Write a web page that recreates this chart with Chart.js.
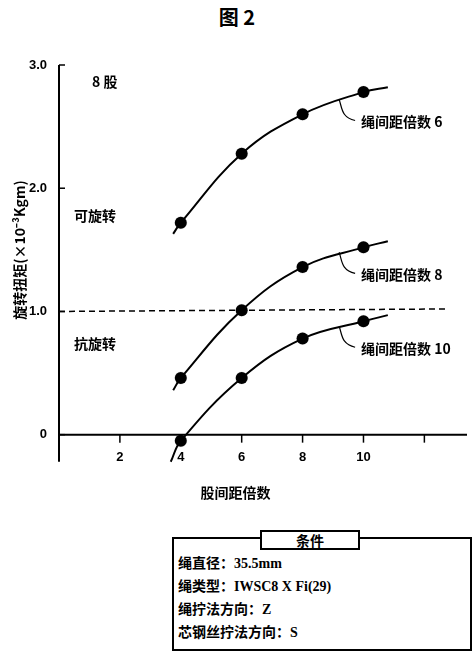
<!DOCTYPE html>
<html><head><meta charset="utf-8">
<script src="https://cdn.jsdelivr.net/npm/chart.js@4"></script>
<style>
body{margin:0;background:#fff;width:474px;height:652px;position:relative;font-family:"Noto Sans CJK SC",sans-serif;overflow:hidden}
#t{position:absolute;left:0;width:474px;top:2px;text-align:center;font-size:20px;font-weight:bold}
#w{position:absolute;left:0;top:0;width:474px;height:500px}
#box{position:absolute;left:172px;top:537px;width:296px;height:110px;border:2px solid #000;font-size:14px;font-weight:bold;font-family:"Liberation Serif","Noto Sans CJK SC",serif}
#hd{position:absolute;left:86px;top:-9px;width:96px;height:16px;border:2px solid #000;background:#fff;text-align:center;line-height:16px;font-family:"Noto Sans CJK SC"}
.r{position:absolute;left:4px}
</style></head><body>
<div id="t">图 2</div>
<div id="w"><canvas id="c"></canvas></div>
<div id="box"><div id="hd">条件</div>
<div class="r" style="top:13px">绳直径：35.5mm</div>
<div class="r" style="top:36px">绳类型：IWSC8 X Fi(29)</div>
<div class="r" style="top:59px">绳拧法方向：Z</div>
<div class="r" style="top:82px">芯钢丝拧法方向：S</div>
</div>
<script>
const xPoints=[4,6,8,10];
const s6=[1.72,2.28,2.60,2.78];
const s8=[0.46,1.01,1.36,1.52];
const s10=[-0.05,0.46,0.78,0.92];
const curve6=[[3.75,1.63],[4,1.72],[6,2.28],[8,2.60],[10,2.78],[10.8,2.82]];
const curve8=[[3.75,0.36],[4,0.46],[6,1.01],[8,1.36],[10,1.52],[10.8,1.57]];
const curve10=[[3.67,-0.22],[4,-0.05],[6,0.46],[8,0.78],[10,0.92],[10.8,0.97]];
const yTicks=[0,1,2,3], yLabels=['0','1.0','2.0','3.0'];
const xTicks=[2,4,6,8,10,12], xLabels=['2','4','6','8','10',''];
const labels=['绳间距倍数 6','绳间距倍数 8','绳间距倍数 10'];
const pts=a=>xPoints.map((x,i)=>({x,y:a[i]}));
const cv=a=>a.map(p=>({x:p[0],y:p[1]}));
const lineDs=d=>({type:'line',data:cv(d),borderColor:'#000',borderWidth:2,pointRadius:0,tension:0.4});
const dotDs=d=>({type:'scatter',data:pts(d),backgroundColor:'#000',pointRadius:6,showLine:false});
const deco={id:'deco',afterDraw(ch){
 const c=ch.ctx,X=ch.scales.x,Y=ch.scales.y,px=v=>X.getPixelForValue(v),py=v=>Y.getPixelForValue(v);
 c.save();c.strokeStyle='#000';c.fillStyle='#000';c.lineWidth=2;
 c.beginPath();c.moveTo(px(0),py(3));c.lineTo(px(0),py(-0.22));c.stroke();
 c.beginPath();c.moveTo(px(0),py(0));c.lineTo(px(13.4),py(0));c.stroke();
 c.lineWidth=1.5;
 yTicks.forEach(v=>{c.beginPath();c.moveTo(px(0),py(v));c.lineTo(px(0)+6,py(v));c.stroke();});
 xTicks.forEach(v=>{c.beginPath();c.moveTo(px(v),py(0));c.lineTo(px(v),py(0)+8);c.stroke();});
 c.setLineDash([6,4]);c.beginPath();c.moveTo(px(0),py(1));c.lineTo(px(12.7),py(1.02));c.stroke();c.setLineDash([]);
 c.font='bold 13px "Liberation Sans"';c.textAlign='right';c.textBaseline='middle';
 yTicks.forEach((v,i)=>c.fillText(yLabels[i],px(0)-12,py(v)));
 c.textAlign='center';c.textBaseline='top';
 xTicks.forEach((v,i)=>c.fillText(xLabels[i],px(v),py(0)+16));
 c.font='bold 14px "Noto Sans CJK SC"';c.textBaseline='middle';
 c.fillText('股间距倍数',px(5.8),493);
 c.textAlign='left';
 c.fillText('8 股',92,82);c.fillText('可旋转',74,216);c.fillText('抗旋转',74,344);
 const ly=[2.72,1.48,0.88];
 ly.forEach((y,i)=>{const x0=px(9.2),y0=py(y);c.lineWidth=1.2;c.beginPath();c.moveTo(x0,y0);c.bezierCurveTo(x0+3,y0+8,x0+2,y0+18,x0+16,y0+21);c.stroke();
  c.fillText(labels[i],x0+22,y0+22);});
 c.save();c.translate(20,250);c.rotate(-Math.PI/2);c.textAlign='center';
 c.font='bold 14px "Noto Sans CJK SC"';c.fillText('旋转扭矩(×10⁻³Kgm)',0,0);c.restore();
 c.restore();}};
new Chart(document.getElementById('c'),{type:'scatter',
 data:{datasets:[lineDs(curve6),lineDs(curve8),lineDs(curve10),dotDs(s6),dotDs(s8),dotDs(s10)]},
 options:{responsive:true,maintainAspectRatio:false,animation:false,
  layout:{padding:{left:59,top:65,right:4,bottom:37}},
  plugins:{legend:{display:false},tooltip:{enabled:false}},
  scales:{x:{type:'linear',min:0,max:13.4,display:false},y:{min:-0.23,max:3,display:false}}},
 plugins:[deco]});
</script></body></html>
